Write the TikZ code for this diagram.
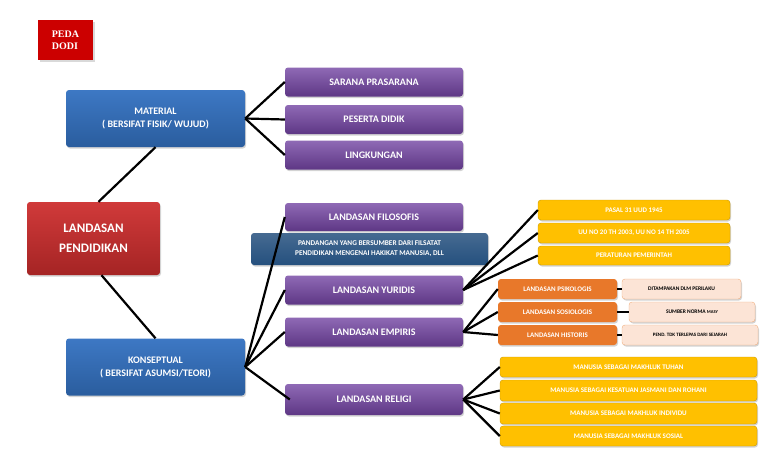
\documentclass[tikz,border=0pt]{standalone}
\usepackage{fontspec}
\setmainfont{Carlito}
\usetikzlibrary{shadows}
\definecolor{pur}{HTML}{7B4FA8}
\definecolor{purd}{HTML}{5E3785}
\definecolor{blu}{HTML}{3D78C4}
\definecolor{blud}{HTML}{2A5D9E}
\definecolor{dblu}{HTML}{25507E}
\definecolor{redb}{HTML}{D03A3A}
\definecolor{redd}{HTML}{A52424}
\definecolor{yel}{HTML}{FFC000}
\definecolor{ora}{HTML}{E8782A}
\definecolor{pea}{HTML}{FCE4D6}
\begin{document}
\begin{tikzpicture}[x=1pt,y=-1pt,
 bx/.style={rounded corners=3pt,draw=none,text=white,font=\bfseries,align=center,inner sep=0pt,drop shadow={opacity=0.35,shadow xshift=1pt,shadow yshift=-1.5pt}},
 purb/.style={bx,top color=pur!85!white,bottom color=purd,minimum width=178pt,minimum height=29pt,font=\bfseries\fontsize{10}{12}\selectfont},
 blub/.style={bx,top color=blu,bottom color=blud,minimum width=179pt,minimum height=57pt,font=\bfseries\fontsize{10}{13}\selectfont},
 yelb/.style={bx,fill=yel,draw=yel!80!black,minimum height=20pt,font=\bfseries\fontsize{7}{8}\selectfont},
 orab/.style={bx,fill=ora,minimum width=119pt,minimum height=20pt,font=\bfseries\fontsize{7}{8}\selectfont},
 peab/.style={bx,fill=pea,draw=ora!60,text=black,minimum height=20pt,font=\bfseries\fontsize{5.5}{7}\selectfont},
 ln/.style={line width=2.2pt,black}]
\useasboundingbox (0,0) rectangle (768,466);
\node[fill=red!80!black,text=white,font=\fontspec{Liberation Serif}\bfseries\fontsize{10}{12}\selectfont,align=left,minimum width=55pt,minimum height=40pt,inner sep=1pt,drop shadow={opacity=0.3}] (pd) at (65.5,40) {PEDA\\DODI};
\node[blub] (mat) at (155.5,118.5) {MATERIAL\\( BERSIFAT FISIK/ WUJUD)};
\node[bx,top color=redb,bottom color=redd,minimum width=133pt,minimum height=73pt,font=\bfseries\fontsize{13}{20}\selectfont] (lp) at (93.5,238.5) {LANDASAN\\PENDIDIKAN};
\node[blub] (kon) at (155.5,367) {KONSEPTUAL\\( BERSIFAT ASUMSI/TEORI)};
\node[purb] (sp) at (374,82) {SARANA PRASARANA};
\node[purb] (pdk) at (374,119.5) {PESERTA DIDIK};
\node[purb] (lk) at (374,155) {LINGKUNGAN};
\node[purb,minimum height=28pt] (fil) at (374,217) {LANDASAN FILOSOFIS};
\node[bx,top color=dblu!85!white,bottom color=dblu,minimum width=237pt,minimum height=32pt,font=\bfseries\fontsize{7.3}{10}\selectfont] (pan) at (369.5,249) {PANDANGAN YANG BERSUMBER DARI FILSATAT\\PENDIDIKAN MENGENAI HAKIKAT MANUSIA, DLL};
\node[purb] (yur) at (374,290) {LANDASAN YURIDIS};
\node[purb] (emp) at (374,332) {LANDASAN EMPIRIS};
\node[purb,minimum height=31pt] (rel) at (374,399.5) {LANDASAN RELIGI};
\node[yelb,minimum width=192pt] (y1) at (634,210) {PASAL 31 UUD 1945};
\node[yelb,minimum width=192pt] (y2) at (634,233) {UU NO 20 TH 2003, UU NO 14 TH 2005};
\node[yelb,minimum width=192pt,minimum height=19pt] (y3) at (634,255.5) {PERATURAN PEMERINTAH};
\node[orab] (o1) at (557.5,289) {LANDASAN PSIKOLOGIS};
\node[orab] (o2) at (557.5,312) {LANDASAN SOSIOLOGIS};
\node[orab] (o3) at (557.5,335) {LANDASAN HISTORIS};
\node[peab,minimum width=119pt] (p1) at (681.5,289) {DITAMPAKAN DLM PERILAKU};
\node[peab,minimum width=126pt] (p2) at (692,312) {SUMBER NORMA {\fontsize{4.5}{6}\selectfont MASY}};
\node[peab,minimum width=136pt,font=\bfseries\fontsize{5}{7}\selectfont] (p3) at (690,335) {PEND. TDK TERLEPAS DARI SEJARAH};
\node[yelb,minimum width=257pt] (r1) at (628.5,367) {MANUSIA SEBAGAI MAKHLUK TUHAN};
\node[yelb,minimum width=257pt,minimum height=21pt] (r2) at (628.5,390.5) {MANUSIA SEBAGAI KESATUAN JASMANI DAN ROHANI};
\node[yelb,minimum width=257pt,minimum height=21pt] (r3) at (628.5,413.5) {MANUSIA SEBAGAI MAKHLUK INDIVIDU};
\node[yelb,minimum width=257pt] (r4) at (628.5,436) {MANUSIA SEBAGAI MAKHLUK SOSIAL};
\begin{scope}[on background layer/.style={}]
\end{scope}
% connectors
\draw[ln] (lp.north) ++(5,0) coordinate (a1) -- (mat.south);
\draw[ln] (lp.south) ++(8,0) coordinate (a2) -- (kon.north);
\foreach \t in {sp,pdk,lk} \draw[ln] (mat.east) -- (\t.west);
\draw[ln] (kon.east) -- (fil.west);
\draw[ln] (kon.east) -- (yur.west);
\draw[ln] (kon.east) -- (emp.west);
\draw[ln] (kon.east) -- ([xshift=5pt]rel.west);
\foreach \t in {y1,y2,y3} \draw[ln] (yur.east) -- (\t.west);
\foreach \t in {o1,o2,o3} \draw[ln] (emp.east) -- (\t.west);
\foreach \t in {r1,r2,r3,r4} \draw[ln] (rel.east) -- (\t.west);
\draw[ln] (o1.east) -- (p1.west);
\draw[ln] (o2.east) -- (p2.west);
\draw[ln] (o3.east) -- (p3.west);
\end{tikzpicture}
\end{document}
